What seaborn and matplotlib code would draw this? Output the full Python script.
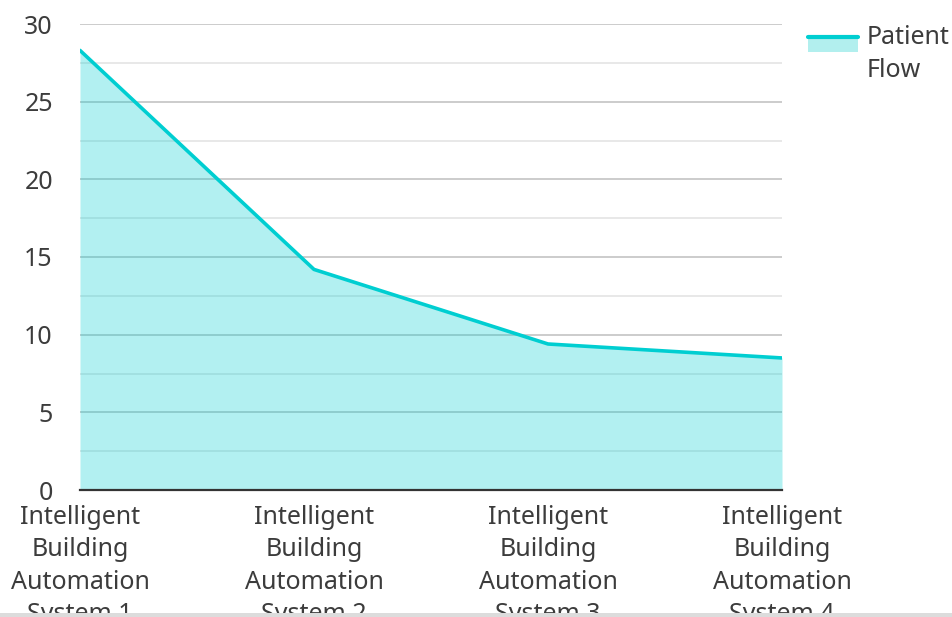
import matplotlib
matplotlib.use("Agg")
import matplotlib.pyplot as plt
import seaborn as sns
import pandas as pd
import numpy as np
from matplotlib.patches import Rectangle
from matplotlib.lines import Line2D
from matplotlib.legend_handler import HandlerBase

categories = ["Intelligent Building Automation System 1",
              "Intelligent Building Automation System 2",
              "Intelligent Building Automation System 3",
              "Intelligent Building Automation System 4"]
tick_labels = ["Intelligent\nBuilding\nAutomation\nSystem 1",
               "Intelligent\nBuilding\nAutomation\nSystem 2",
               "Intelligent\nBuilding\nAutomation\nSystem 3",
               "Intelligent\nBuilding\nAutomation\nSystem 4"]
patient_flow = [28.3, 14.2, 9.4, 8.5]
series_name = "Patient Flow"
y_ticks = [0, 5, 10, 15, 20, 25, 30]

LINE = "#00CED1"
FILL = "#B2EFEE"
TXT = "#3C3C3C"
FS = 18

sns.set_theme(style="white")
plt.rcParams["font.family"] = ["Noto Sans", "DejaVu Sans"]

df = pd.DataFrame({"idx": np.arange(len(categories)), "value": patient_flow})

fig = plt.figure(figsize=(9.52, 6.17), dpi=100)
ax = fig.add_axes([80/952, 1-490/617, (782-80)/952, (490-24)/617])

# grid
for v in np.arange(2.5, 30.1, 2.5):
    major = (v % 5 == 0)
    ax.axhline(v, color="#C8C8C8" if major else "#E6E6E6", lw=1.3, zorder=1)

ax.fill_between(df["idx"], df["value"], 0, color=LINE, alpha=0.30, lw=0, zorder=2)
sns.lineplot(data=df, x="idx", y="value", ax=ax, color=LINE, lw=2.6, zorder=3,
             legend=False)

ax.set_xlim(0, len(categories) - 1)
ax.set_ylim(0, 30)
ax.set_yticks(y_ticks)
ax.set_yticklabels([str(t) for t in y_ticks], fontsize=FS, color=TXT)
ax.set_xticks(df["idx"])
ax.set_xticklabels(tick_labels, fontsize=FS, color=TXT, linespacing=1.38)
ax.tick_params(axis="both", length=0)
ax.tick_params(axis="y", pad=19.5)
ax.tick_params(axis="x", pad=11)
ax.set_xlabel("")
ax.set_ylabel("")
for s in ["top", "right", "left"]:
    ax.spines[s].set_visible(False)
ax.spines["bottom"].set_color("#333333")
ax.spines["bottom"].set_linewidth(1.6)
ax.spines["bottom"].set_zorder(5)


class AreaHandler(HandlerBase):
    def create_artists(self, legend, orig_handle, xdescent, ydescent,
                       width, height, fontsize, trans):
        shift = 7.0
        top = height
        r = Rectangle((-xdescent, -ydescent + shift), width, top, facecolor=FILL,
                      edgecolor="none", transform=trans)
        l = Line2D([-xdescent, -xdescent + width],
                   [-ydescent + shift + top, -ydescent + shift + top],
                   color=LINE, lw=3, transform=trans)
        return [r, l]


handle = Rectangle((0, 0), 1, 1)
leg = fig.legend([handle], ["Patient\nFlow"], handler_map={Rectangle: AreaHandler()},
                 loc="upper left", bbox_to_anchor=(785/952, 1-2/617),
                 frameon=False, fontsize=FS, handlelength=2.0, handleheight=0.55,
                 handletextpad=0.35, labelcolor=TXT)
for t in leg.get_texts():
    t.set_linespacing(1.43)

fig.patches.append(Rectangle((0, 0), 1, 4.5/617, transform=fig.transFigure,
                             facecolor="#DCDCDC", edgecolor="none", zorder=10))

fig.savefig("out.png", dpi=100)
